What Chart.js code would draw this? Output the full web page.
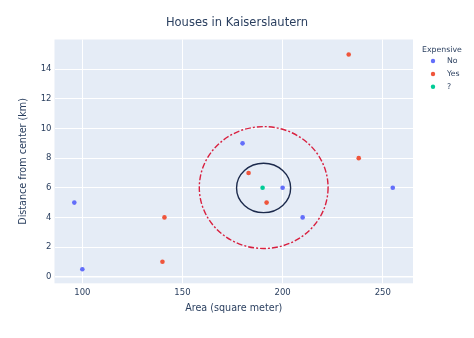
<!DOCTYPE html>
<html>
<head>
<meta charset="utf-8">
<script src="https://cdn.jsdelivr.net/npm/chart.js@4/dist/chart.umd.min.js"></script>
<style>
  html, body { margin: 0; padding: 0; background: #fff; }
  #wrap { width: 474px; height: 338px; position: relative; }
</style>
</head>
<body>
<div id="wrap"><canvas id="c" width="474" height="338"></canvas></div>
<script>
// ---- data ----
const chartTitle = "Houses in Kaiserslautern";
const xTitle = "Area (square meter)";
const yTitle = "Distance from center (km)";
const legendTitle = "Expensive";
const seriesNames = ["No", "Yes", "?"];
const noArea = [96, 100, 180, 200, 210, 255];
const noDist = [5, 0.5, 9, 6, 4, 6];
const yesArea = [140, 141, 183, 192, 233, 238];
const yesDist = [1, 4, 7, 5, 15, 8];
const unkArea = [190];
const unkDist = [6];
const xTicks = [100, 150, 200, 250];
const yTicks = [0, 2, 4, 6, 8, 10, 12, 14];
// circle shapes: [x0, x1, y0, y1] in data units
const innerCircle = [177, 204, 4.32, 7.66];
const outerCircle = [158.4, 222.7, 1.9, 10.13];

const colors = ["#636efa", "#EF553B", "#00cc96"];
const FONT = "'DejaVu Sans', Verdana, sans-serif";
const TXT = "#2a3f5f";

function pts(xs, ys) { return xs.map((x, i) => ({ x: x, y: ys[i] })); }

const bgPlugin = {
  id: 'plotbg',
  beforeDraw(chart) {
    const { ctx, chartArea: a } = chart;
    ctx.save();
    ctx.fillStyle = "#E5ECF6";
    ctx.fillRect(a.left, a.top, a.right - a.left, a.bottom - a.top);
    ctx.restore();
  }
};

const shapePlugin = {
  id: 'shapes',
  afterDatasetsDraw(chart) {
    const { ctx, chartArea: a, scales } = chart;
    const sx = scales.x, sy = scales.y;
    function ell(b, color, width, dash) {
      const px0 = sx.getPixelForValue(b[0]), px1 = sx.getPixelForValue(b[1]);
      const py0 = sy.getPixelForValue(b[2]), py1 = sy.getPixelForValue(b[3]);
      ctx.save();
      ctx.beginPath();
      ctx.rect(a.left, a.top, a.right - a.left, a.bottom - a.top);
      ctx.clip();
      ctx.beginPath();
      ctx.ellipse((px0 + px1) / 2, (py0 + py1) / 2, Math.abs(px1 - px0) / 2, Math.abs(py1 - py0) / 2, 0, 0, Math.PI * 2);
      ctx.strokeStyle = color;
      ctx.lineWidth = width;
      ctx.setLineDash(dash);
      ctx.stroke();
      ctx.restore();
    }
    ell(outerCircle, "#d9203f", 1.4, [6, 2, 2, 2]);
    ell(innerCircle, "#1c2a4c", 1.4, []);
  }
};

const textPlugin = {
  id: 'texts',
  afterDraw(chart) {
    const { ctx } = chart;
    ctx.save();
    ctx.fillStyle = TXT;
    ctx.font = "11.5px " + FONT;
    ctx.textAlign = "center";
    ctx.textBaseline = "alphabetic";
    ctx.fillText(chartTitle, 237, 26);
    // legend
    ctx.textAlign = "left";
    ctx.textBaseline = "middle";
    ctx.font = "7.8px " + FONT;
    ctx.fillText(legendTitle, 422, 50);
    const ys = [61, 74, 86.7];
    chart.data.datasets.forEach((ds, i) => {
      ctx.beginPath();
      ctx.fillStyle = ds.backgroundColor;
      ctx.arc(433, ys[i], 2.2, 0, Math.PI * 2);
      ctx.fill();
      ctx.fillStyle = TXT;
      ctx.fillText(ds.label, 447, ys[i]);
    });
    ctx.restore();
  }
};

new Chart(document.getElementById('c'), {
  type: 'scatter',
  data: {
    datasets: [
      { label: seriesNames[0], data: pts(noArea, noDist), backgroundColor: colors[0], borderWidth: 0, pointRadius: 2.3, pointHoverRadius: 2.3 },
      { label: seriesNames[1], data: pts(yesArea, yesDist), backgroundColor: colors[1], borderWidth: 0, pointRadius: 2.3, pointHoverRadius: 2.3 },
      { label: seriesNames[2], data: pts(unkArea, unkDist), backgroundColor: colors[2], borderWidth: 0, pointRadius: 2.3, pointHoverRadius: 2.3 }
    ]
  },
  options: {
    responsive: false,
    animation: false,
    events: [],
    layout: { padding: { top: 39.5, right: 61, left: 0, bottom: 0 } },
    plugins: { legend: { display: false }, title: { display: false }, tooltip: { enabled: false } },
    scales: {
      x: {
        type: 'linear', min: 86.1, max: 265.1,
        afterFit(s) { s.height = 54.7; },
        afterBuildTicks(s) { s.ticks = xTicks.map(v => ({ value: v })); },
        border: { display: false },
        grid: { color: "#ffffff", lineWidth: 1, drawTicks: false },
        ticks: { padding: 4, color: TXT, font: { family: FONT, size: 8.5 } },
        title: { display: true, text: xTitle, color: TXT, font: { family: FONT, size: 9.6 }, padding: { top: 0, bottom: 24 } }
      },
      y: {
        type: 'linear', min: -0.45, max: 16.01,
        afterFit(s) { s.width = 54.5; },
        afterBuildTicks(s) { s.ticks = yTicks.map(v => ({ value: v })); },
        border: { display: false },
        grid: { color: "#ffffff", lineWidth: (c) => (c.tick && c.tick.value === 0 ? 1.6 : 1), drawTicks: false },
        ticks: { padding: 3, color: TXT, font: { family: FONT, size: 8.5 } },
        title: { display: true, text: yTitle, color: TXT, font: { family: FONT, size: 9.6 }, padding: { top: 17.5, bottom: 0 } }
      }
    }
  },
  plugins: [bgPlugin, shapePlugin, textPlugin]
});
</script>
</body>
</html>
